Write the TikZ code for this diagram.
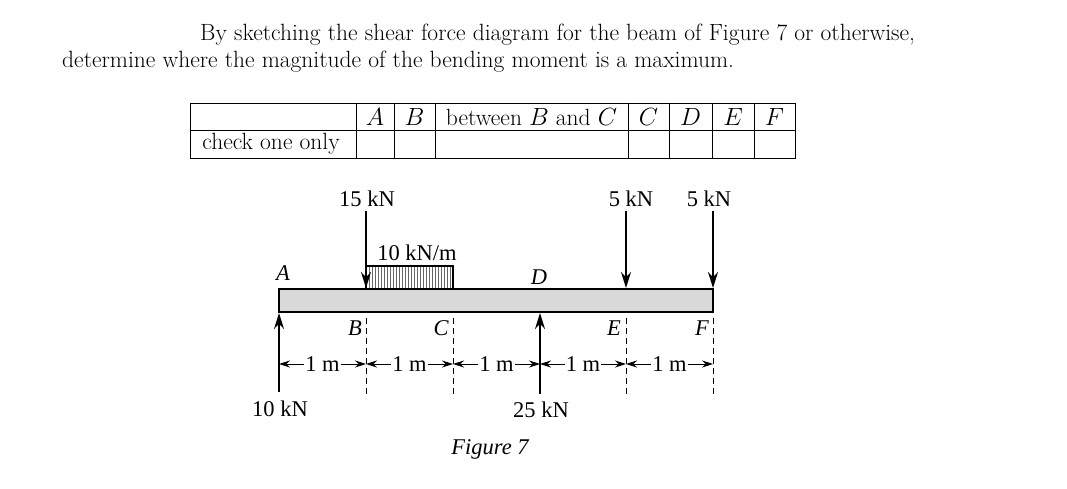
\documentclass[tikz,border=0pt]{standalone}
\usepackage{fontspec}
\newfontfamily\tms{Liberation Serif}
\usetikzlibrary{arrows.meta,patterns}
\begin{document}
\begin{tikzpicture}[x=1pt,y=-1pt,
  lm/.style={font=\fontsize{23.5}{26}\selectfont,inner sep=0},
  tm/.style={font=\tms\fontsize{22.5}{24}\selectfont,inner sep=0},
  tmi/.style={font=\tms\itshape\fontsize{22.5}{24}\selectfont,inner sep=0},
  force/.style={line width=1.6pt,-{Stealth[length=16pt,width=10pt]}},
  dim/.style={line width=0.9pt,{Stealth[length=11pt,width=7pt]}-{Stealth[length=11pt,width=7pt]}},
  dashline/.style={line width=0.8pt,dash pattern=on 6pt off 4pt}]
\useasboundingbox (0,0) rectangle (1067,489);
\node[lm,anchor=base west] (t1) at (200,41) {By sketching the shear force diagram for the beam of Figure 7 or otherwise,};
\node[lm,anchor=base west] (t2) at (62,68) {determine where the magnitude of the bending moment is a maximum.};
% table
\draw[line width=0.8pt] (190,103) rectangle (795,158);
\draw[line width=0.8pt] (190,130) -- (795,130);
\foreach \x in {356,394,435,628,669,712,754} \draw[line width=0.8pt] (\x,103) -- (\x,158);
\node[lm] (ha) at (375,117) {$A$};
\node[lm] (hb) at (414.5,117) {$B$};
\node[lm] (hbc) at (531.5,117) {between $B$ and $C$};
\node[lm] (hc) at (648.5,117) {$C$};
\node[lm] (hd) at (690.5,117) {$D$};
\node[lm] (he) at (733,117) {$E$};
\node[lm] (hf) at (774.5,117) {$F$};
\node[lm] (chk) at (271,144) {check one only};
% beam
\draw[line width=2.4pt,fill=black!15] (279,289) rectangle (713,312);
\draw[line width=1.5pt,pattern=vertical lines,pattern color=black!60] (366,289) rectangle (453,266);
\coordinate (pA) at (279,313); \coordinate (pB) at (366,288); \coordinate (pD) at (540,313);
\coordinate (pE) at (626,288); \coordinate (pF) at (713,288);
\node[tm] (f15) at (367,199) {15 kN};
\node[tm] (f5a) at (631,199) {5 kN};
\node[tm] (f5b) at (709,199) {5 kN};
\draw[force] (366,211) -- (pB);
\draw[force] (626,211) -- (pE);
\draw[force] (713,211) -- (pF);
\node[tm] (q) at (417,253) {10 kN/m};
\node[tmi] (lA) at (283,273) {A};
\node[tmi] (lD) at (539,277) {D};
\draw[force] (279,392) -- (pA);
\draw[force] (540,394) -- (pD);
\node[tm] (r10) at (280,409) {10 kN};
\node[tm] (r25) at (541,410) {25 kN};
\foreach \n/\x in {B/355,C/441,E/614,F/702} \node[tmi] (l\n) at (\x,328) {\n};
\foreach \x in {366,453,626,713} \draw[dashline] (\x,318) -- (\x,398);
\foreach \a/\b in {279/366,366/453,453/540,540/626,626/713}{
  \draw[dim] (\a,364) -- (\b,364);
  \node[tm,fill=white,inner xsep=1pt] at ({(\a+\b)/2},364) {1 m};}
\node[tmi] (fig) at (490,449) {Figure 7};
\end{tikzpicture}
\end{document}
